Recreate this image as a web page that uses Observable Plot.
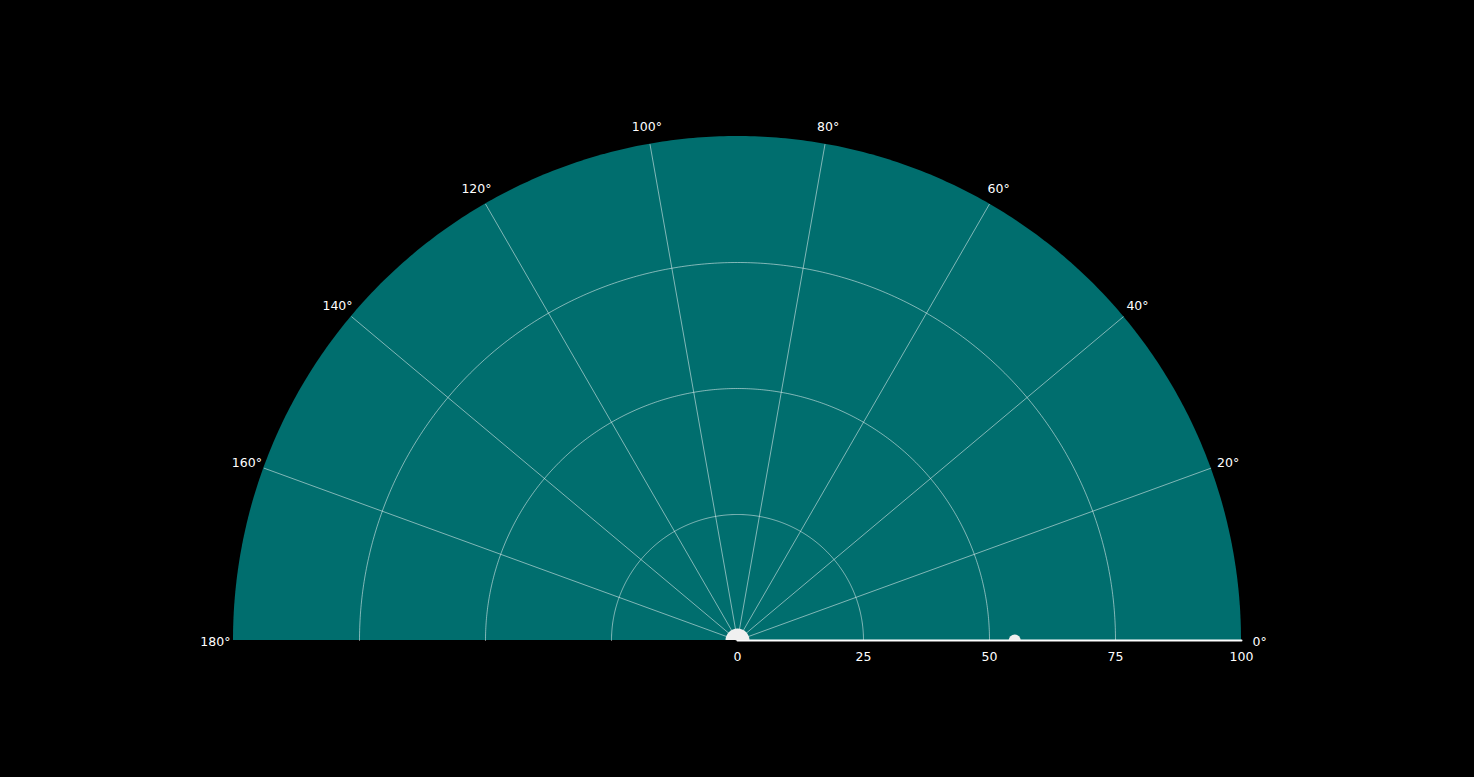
<!DOCTYPE html>
<html>
<head>
<meta charset="utf-8">
<script src="https://cdn.jsdelivr.net/npm/d3@7"></script>
<script src="https://cdn.jsdelivr.net/npm/@observablehq/plot@0.6"></script>
<style>
  html, body { margin: 0; padding: 0; background: #000; }
  #chart { width: 1474px; height: 777px; }
</style>
</head>
<body>
<div id="chart"></div>
<script>
// ---- data ----
const angleTicks = [0, 20, 40, 60, 80, 100, 120, 140, 160, 180];
const radialTicks = [0, 25, 50, 75, 100];
const radialMax = 100;
const lineTheta = [0, 0];
const lineR = [0, 100];
const dotTheta = [0, 0];
const dotR = [0, 55];
const dotSize = [12, 6];

// ---- helpers ----
const rad = (deg) => deg * Math.PI / 180;
const polar = (r, deg) => ({x: r * Math.cos(rad(deg)), y: r * Math.sin(rad(deg))});
const arcAngles = d3.range(0, 180.01, 0.5);

const bgPts = arcAngles.map(a => polar(radialMax, a));
const ringPts = radialTicks.filter(r => r > 0 && r < radialMax)
  .flatMap(r => arcAngles.map(a => ({...polar(r, a), ring: r})));
const spokes = angleTicks.filter(a => a > 0 && a < 180)
  .map(a => ({a, ...polar(radialMax, a)}));
const angleLabels = angleTicks.map(a => ({label: a + "°", ...polar(radialMax * 1.036, a)}));
const radialLabels = radialTicks.map(r => ({label: String(r), x: r, y: 0}));
const lineData = lineR.map((r, i) => polar(r, lineTheta[i]));
const dotData = dotR.map((r, i) => ({...polar(r, dotTheta[i]), size: dotSize[i]}));

const chart = Plot.plot({
  width: 1474,
  height: 777,
  marginLeft: 233,
  marginRight: 233,
  marginTop: 136,
  marginBottom: 137,
  x: {domain: [-radialMax, radialMax], axis: null},
  y: {domain: [0, radialMax], axis: null},
  r: {type: "identity"},
  style: {background: "#000", color: "#fff", fontFamily: "DejaVu Sans", fontSize: "12.5px"},
  marks: [
    Plot.areaY(bgPts, {x: "x", y: "y", fill: "#006e6e"}),
    Plot.line(ringPts, {x: "x", y: "y", z: "ring", stroke: "#fff", strokeOpacity: 0.5, strokeWidth: 1}),
    Plot.link(spokes, {x1: 0, y1: 0, x2: "x", y2: "y", stroke: "#fff", strokeOpacity: 0.5, strokeWidth: 1}),
    Plot.line(lineData, {x: "x", y: "y", stroke: "#fff", strokeWidth: 2}),
    Plot.dot(dotData, {x: "x", y: "y", r: "size", fill: "#f0f0f0", stroke: "none", clip: "frame"}),
    Plot.text(angleLabels, {x: "x", y: "y", text: "label", fill: "#fff", textAnchor: "middle", dy: 1}),
    Plot.text(radialLabels, {x: "x", y: "y", text: "label", fill: "#fff", dy: 16, textAnchor: "middle"})
  ]
});
document.getElementById("chart").appendChild(chart);
</script>
</body>
</html>
